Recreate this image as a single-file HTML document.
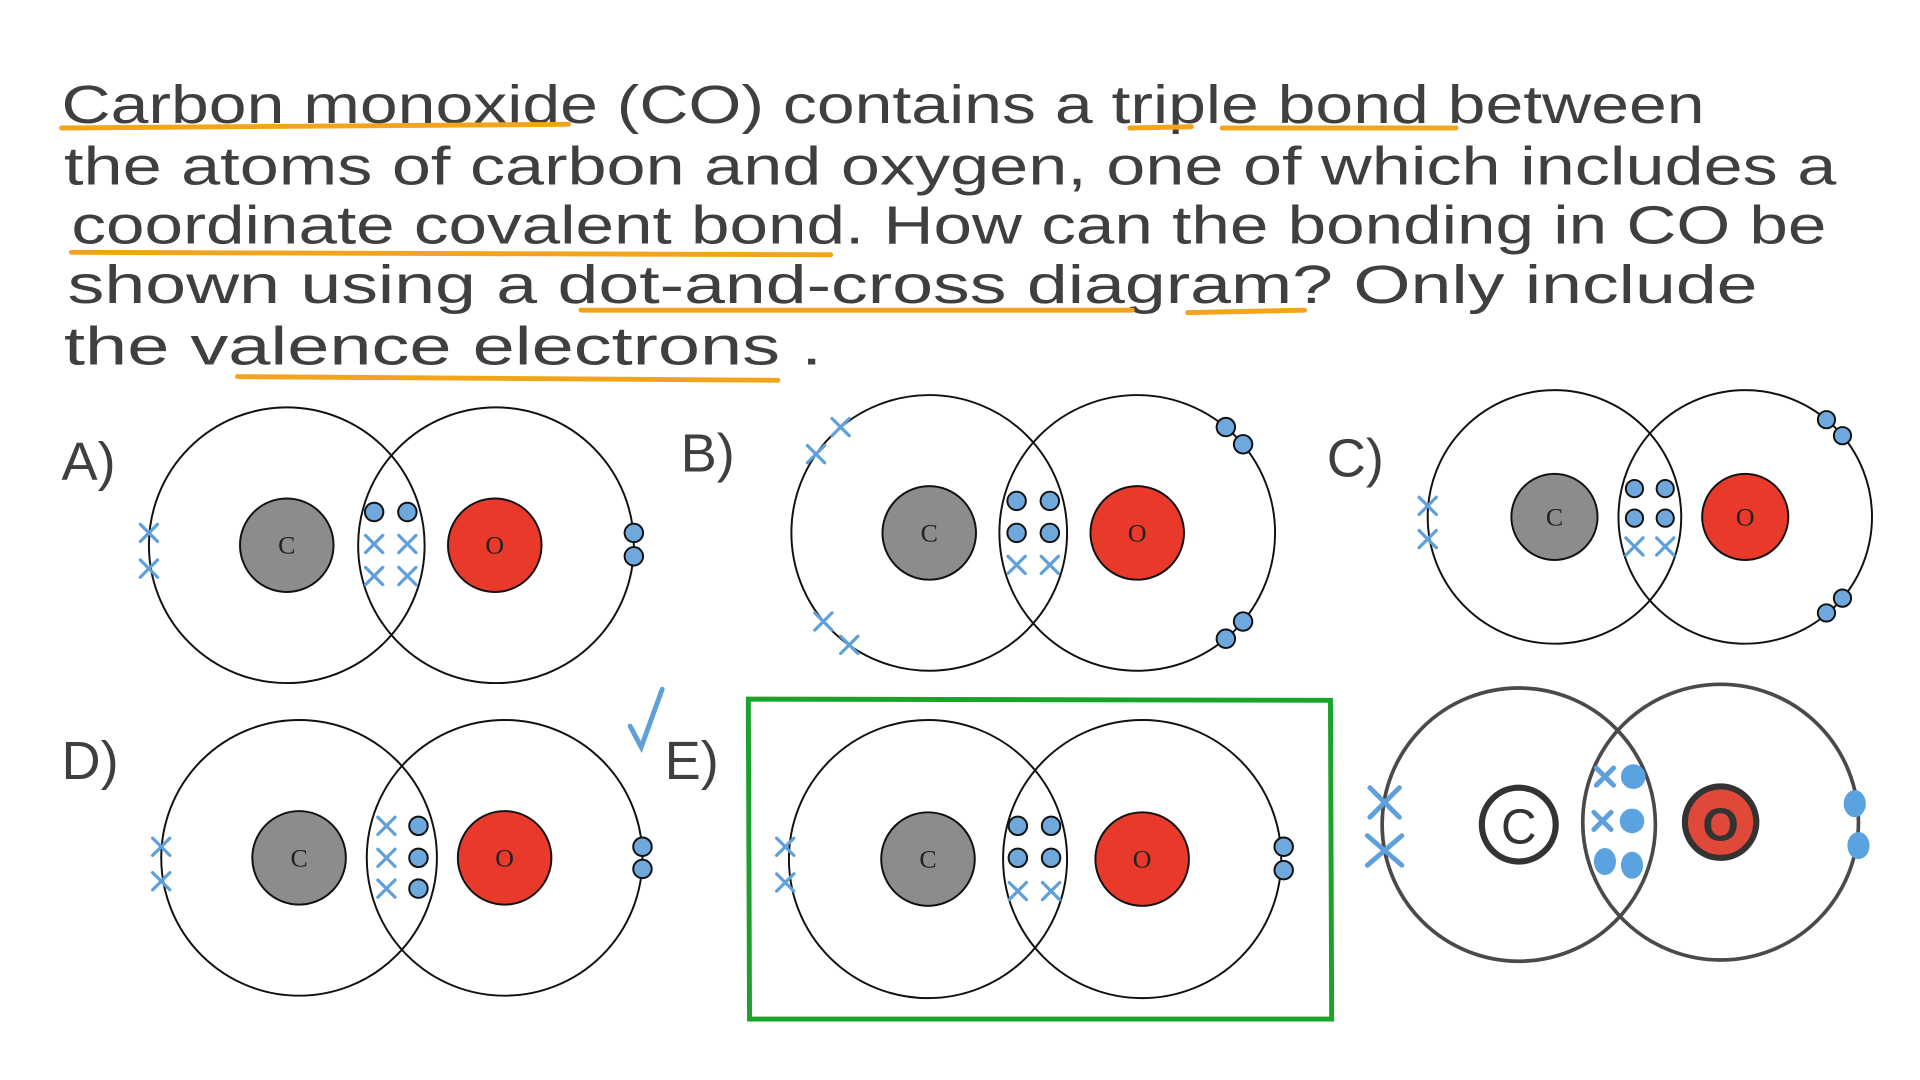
<!DOCTYPE html>
<html><head><meta charset="utf-8"><style>
html,body{margin:0;padding:0;background:#fff;}
svg{display:block;}
.t{font-family:"Liberation Sans",sans-serif;font-size:44px;fill:#3f3f3f;}
.n{font-family:"Liberation Serif",serif;font-size:21px;fill:#222;text-anchor:middle;dominant-baseline:central;}
.u{stroke:#f2a51c;stroke-width:4;stroke-linecap:round;fill:none;}
.o{fill:none;stroke:#111;stroke-width:1.6;}
.d{fill:#6fa8dc;stroke:#111;stroke-width:1.6;}
.x{stroke:#5fa0db;stroke-width:2.6;stroke-linecap:round;}
.lab{font-family:"Liberation Sans",sans-serif;font-size:44px;fill:#3f3f3f;}
</style></head><body>
<svg width="1920" height="1080" viewBox="0 0 1560 877.5" preserveAspectRatio="none" xmlns="http://www.w3.org/2000/svg">
<defs>
<g id="x"><line class="x" x1="-7" y1="-7" x2="7" y2="7"/><line class="x" x1="-7" y1="7" x2="7" y2="-7"/></g>
</defs>
<!-- text -->
<text class="t" x="50" y="100" textLength="1335" lengthAdjust="spacingAndGlyphs">Carbon monoxide  (CO)  contains  a  triple  bond  between</text>
<text class="t" x="52" y="150" textLength="1440" lengthAdjust="spacingAndGlyphs">the  atoms  of  carbon  and  oxygen,  one   of  which  includes  a</text>
<text class="t" x="58" y="198" textLength="1426" lengthAdjust="spacingAndGlyphs">coordinate  covalent  bond.  How  can  the  bonding  in  CO  be</text>
<text class="t" x="55" y="246" textLength="1373" lengthAdjust="spacingAndGlyphs">shown  using  a  dot-and-cross  diagram?  Only   include</text>
<text class="t" x="52" y="296" textLength="616" lengthAdjust="spacingAndGlyphs">the    valence   electrons .</text>
<path class="u" d="M50 104 L462 101"/>
<path class="u" d="M918 104 L968 103 M993 104 L1183 104"/>
<path class="u" d="M58 205 L675 207"/>
<path class="u" d="M472 252 L920 252 M965 254 L1060 252"/>
<path class="u" d="M193 306 L632 309"/>
<!-- labels -->
<text class="lab" x="50" y="390">A)</text>
<text class="lab" x="553" y="383">B)</text>
<text class="lab" x="1078" y="387">C)</text>
<text class="lab" x="50" y="633">D)</text>
<text class="lab" x="540" y="633">E)</text>
<path d="M512 590 L521 607 L538 560" stroke="#5fa0db" stroke-width="4" fill="none" stroke-linecap="round"/>
<!-- A -->
<circle class="o" cx="233" cy="443" r="112"/><circle class="o" cx="403" cy="443" r="112"/>
<circle cx="233" cy="443" r="38" fill="#8c8c8c" stroke="#111" stroke-width="1.6"/><text class="n" x="233" y="443">C</text>
<circle cx="402" cy="443" r="38" fill="#e8392b" stroke="#111" stroke-width="1.6"/><text class="n" x="402" y="443">O</text>
<circle class="d" cx="304" cy="416" r="7.5"/><circle class="d" cx="331" cy="416" r="7.5"/>
<use href="#x" x="304" y="442"/><use href="#x" x="331" y="442"/><use href="#x" x="304" y="468"/><use href="#x" x="331" y="468"/>
<use href="#x" x="121" y="433"/><use href="#x" x="121" y="462"/>
<circle class="d" cx="515" cy="433" r="7.5"/><circle class="d" cx="515" cy="452" r="7.5"/>
<!-- B -->
<circle class="o" cx="755" cy="433" r="112"/><circle class="o" cx="924" cy="433" r="112"/>
<circle cx="755" cy="433" r="38" fill="#8c8c8c" stroke="#111" stroke-width="1.6"/><text class="n" x="755" y="433">C</text>
<circle cx="924" cy="433" r="38" fill="#e8392b" stroke="#111" stroke-width="1.6"/><text class="n" x="924" y="433">O</text>
<circle class="d" cx="826" cy="407" r="7.5"/><circle class="d" cx="853" cy="407" r="7.5"/><circle class="d" cx="826" cy="433" r="7.5"/><circle class="d" cx="853" cy="433" r="7.5"/>
<use href="#x" x="826" y="459"/><use href="#x" x="853" y="459"/>
<use href="#x" x="683" y="347"/><use href="#x" x="663" y="369"/><use href="#x" x="669" y="505"/><use href="#x" x="690" y="524"/>
<circle class="d" cx="996" cy="347" r="7.5"/><circle class="d" cx="1010" cy="361" r="7.5"/><circle class="d" cx="996" cy="519" r="7.5"/><circle class="d" cx="1010" cy="505" r="7.5"/>
<!-- C -->
<circle class="o" cx="1263" cy="420" r="103"/><circle class="o" cx="1418" cy="420" r="103"/>
<circle cx="1263" cy="420" r="35" fill="#8c8c8c" stroke="#111" stroke-width="1.6"/><text class="n" x="1263" y="420">C</text>
<circle cx="1418" cy="420" r="35" fill="#e8392b" stroke="#111" stroke-width="1.6"/><text class="n" x="1418" y="420">O</text>
<circle class="d" cx="1328" cy="397" r="7"/><circle class="d" cx="1353" cy="397" r="7"/><circle class="d" cx="1328" cy="421" r="7"/><circle class="d" cx="1353" cy="421" r="7"/>
<use href="#x" x="1328" y="444"/><use href="#x" x="1353" y="444"/>
<use href="#x" x="1160" y="411"/><use href="#x" x="1160" y="438"/>
<circle class="d" cx="1484" cy="341" r="7"/><circle class="d" cx="1497" cy="354" r="7"/><circle class="d" cx="1484" cy="498" r="7"/><circle class="d" cx="1497" cy="486" r="7"/>
<!-- D -->
<circle class="o" cx="243" cy="697" r="112"/><circle class="o" cx="410" cy="697" r="112"/>
<circle cx="243" cy="697" r="38" fill="#8c8c8c" stroke="#111" stroke-width="1.6"/><text class="n" x="243" y="697">C</text>
<circle cx="410" cy="697" r="38" fill="#e8392b" stroke="#111" stroke-width="1.6"/><text class="n" x="410" y="697">O</text>
<use href="#x" x="314" y="671"/><use href="#x" x="314" y="697"/><use href="#x" x="314" y="722"/>
<circle class="d" cx="340" cy="671" r="7.5"/><circle class="d" cx="340" cy="697" r="7.5"/><circle class="d" cx="340" cy="722" r="7.5"/>
<use href="#x" x="131" y="688"/><use href="#x" x="131" y="716"/>
<circle class="d" cx="522" cy="688" r="7.5"/><circle class="d" cx="522" cy="706" r="7.5"/>
<!-- E -->
<path d="M608 568 L1081 569 L1082 828 L609 828 Z" fill="none" stroke="#1aa22b" stroke-width="4"/>
<circle class="o" cx="754" cy="698" r="113"/><circle class="o" cx="928" cy="698" r="113"/>
<circle cx="754" cy="698" r="38" fill="#8c8c8c" stroke="#111" stroke-width="1.6"/><text class="n" x="754" y="698">C</text>
<circle cx="928" cy="698" r="38" fill="#e8392b" stroke="#111" stroke-width="1.6"/><text class="n" x="928" y="698">O</text>
<circle class="d" cx="827" cy="671" r="7.5"/><circle class="d" cx="854" cy="671" r="7.5"/><circle class="d" cx="827" cy="697" r="7.5"/><circle class="d" cx="854" cy="697" r="7.5"/>
<use href="#x" x="827" y="724"/><use href="#x" x="854" y="724"/>
<use href="#x" x="638" y="688"/><use href="#x" x="638" y="717"/>
<circle class="d" cx="1043" cy="688" r="7.5"/><circle class="d" cx="1043" cy="707" r="7.5"/>
<!-- hand-drawn -->
<circle cx="1234" cy="670" r="111" fill="none" stroke="#4a4a4a" stroke-width="3"/>
<circle cx="1398" cy="668" r="112" fill="none" stroke="#4a4a4a" stroke-width="3"/>
<circle cx="1234" cy="670" r="30" fill="none" stroke="#333" stroke-width="5"/>
<text x="1234" y="672" font-family="Liberation Sans,sans-serif" font-size="40" fill="#333" text-anchor="middle" dominant-baseline="central">C</text>
<circle cx="1398" cy="668" r="29" fill="#e0483a" stroke="#333" stroke-width="5"/>
<text x="1398" y="670" font-family="Liberation Sans,sans-serif" font-size="38" font-weight="bold" fill="#333" text-anchor="middle" dominant-baseline="central">O</text>
<g stroke="#5fa0db" stroke-width="4" stroke-linecap="round">
<line x1="1297" y1="624" x2="1311" y2="638"/><line x1="1297" y1="638" x2="1311" y2="624"/>
<line x1="1295" y1="660" x2="1309" y2="674"/><line x1="1295" y1="674" x2="1309" y2="660"/>
<line x1="1113" y1="640" x2="1137" y2="664"/><line x1="1113" y1="664" x2="1137" y2="640"/>
<line x1="1111" y1="679" x2="1139" y2="703"/><line x1="1111" y1="703" x2="1139" y2="679"/>
</g>
<g fill="#5aa3e0">
<circle cx="1327" cy="631" r="10"/><circle cx="1326" cy="667" r="10"/>
<ellipse cx="1304" cy="700" rx="9" ry="11"/><ellipse cx="1326" cy="703" rx="9" ry="11"/>
<ellipse cx="1507" cy="653" rx="9" ry="11"/><ellipse cx="1510" cy="687" rx="9" ry="11"/>
</g>
</svg>
</body></html>
